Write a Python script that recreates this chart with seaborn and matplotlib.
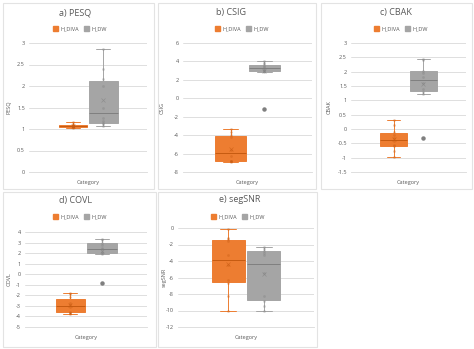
import numpy as np
import pandas as pd
import matplotlib
matplotlib.use("Agg")
import matplotlib.pyplot as plt
from matplotlib.patches import Rectangle, Patch
import seaborn as sns

sns.set_theme(style="white")
plt.rcParams["font.family"] = ["Open Sans", "DejaVu Sans"]
plt.rcParams["axes.unicode_minus"] = False

series_names = ["H_DIVA", "H_DW"]
box_colors = ["#ED7D31", "#A5A5A5"]
dark_colors = ["#C55A11", "#7F7F7F"]

# per-metric samples for the two systems
pesq_diva = [1.02, 1.04, 1.05, 1.05, 1.06, 1.08, 1.09, 1.10, 1.12, 1.16]
pesq_dw = [1.07, 1.12, 1.14, 1.18, 1.25, 1.50, 2.00, 2.16, 2.40, 2.87]
csig_diva = [-6.90, -6.85, -6.80, -6.78, -6.30, -5.60, -4.20, -4.00, -3.70, -3.38]
csig_dw = [-1.20, 2.90, 2.95, 3.02, 3.15, 3.35, 3.55, 3.68, 3.85, 4.00]
cbak_diva = [-0.98, -0.75, -0.60, -0.56, -0.42, -0.32, -0.20, -0.12, 0.15, 0.30]
cbak_dw = [-0.30, 1.22, 1.30, 1.38, 1.62, 1.80, 1.95, 2.03, 2.40, 2.45]
covl_diva = [-3.80, -3.72, -3.65, -3.55, -3.10, -2.90, -2.70, -2.20, -1.90, -1.80]
covl_dw = [-0.82, 1.95, 2.00, 2.10, 2.35, 2.50, 2.80, 3.00, 3.20, 3.30]
snr_diva = [-10.06, -8.20, -6.70, -6.26, -4.50, -3.26, -1.60, -1.35, -1.20, -0.16]
snr_dw = [-10.06, -9.50, -8.90, -8.20, -5.50, -3.22, -3.00, -2.78, -2.50, -2.34]

titles = ["a) PESQ", "b) CSIG", "c) CBAK", "d) COVL", "e) segSNR"]
ylabels = ["PESQ", "CSIG", "CBAK", "COVL", "segSNR"]
samples = [(pesq_diva, pesq_dw), (csig_diva, csig_dw), (cbak_diva, cbak_dw),
           (covl_diva, covl_dw), (snr_diva, snr_dw)]
yticks = [np.arange(0, 3.01, 0.5), np.arange(-8, 6.01, 2), np.arange(-1.5, 3.01, 0.5),
          np.arange(-5, 4.01, 1), np.arange(-12, 0.01, 2)]

W, H = 474, 349
fig = plt.figure(figsize=(W / 100, H / 100), dpi=100)
fig.patch.set_facecolor("white")

# layout in pixels: panel frame, plot area, title x, legend x, y-label x
panels = [
    dict(frame=(3, 3, 154, 189), area=(29, 43, 147, 172), tx=75, lx=80, yl=11, ty=13, ly=29),
    dict(frame=(158, 3, 316, 189), area=(183, 43, 312, 172), tx=231, lx=242, yl=165, ty=13, ly=29),
    dict(frame=(321, 3, 472, 189), area=(351, 43, 466, 172), tx=396, lx=401, yl=332, ty=13, ly=29),
    dict(frame=(3, 192, 156, 347), area=(25, 232, 147, 327), tx=76, lx=80, yl=12, ty=200, ly=217),
    dict(frame=(158, 192, 317, 347), area=(178, 228, 314, 327), tx=240, lx=238, yl=167, ty=200, ly=217),
]

text_color = "#595959"
grid_color = "#D9D9D9"

for i, p in enumerate(panels):
    fx0, fy0, fx1, fy1 = p["frame"]
    fig.patches.append(Rectangle((fx0 / W, 1 - fy1 / H), (fx1 - fx0) / W, (fy1 - fy0) / H,
                                 transform=fig.transFigure, fill=False,
                                 edgecolor="#E3E3E3", linewidth=0.8))
    l, t, r, b = p["area"]
    ax = fig.add_axes([l / W, 1 - b / H, (r - l) / W, (b - t) / H])

    d_vals, w_vals = samples[i]
    df = pd.DataFrame({
        "value": list(d_vals) + list(w_vals),
        "series": [series_names[0]] * len(d_vals) + [series_names[1]] * len(w_vals),
    })

    for k, name in enumerate(series_names):
        sub = df[df["series"] == name]
        sns.boxplot(data=sub, x="series", y="value", order=series_names,
                    color=box_colors[k], saturation=1, width=0.92,
                    linecolor=box_colors[k], linewidth=0.7, ax=ax,
                    medianprops=dict(color=dark_colors[k], linewidth=0.7),
                    flierprops=dict(marker="o", markersize=2.2,
                                    markerfacecolor=dark_colors[k],
                                    markeredgecolor=dark_colors[k]),
                    showmeans=True,
                    meanprops=dict(marker="x", markersize=2.2,
                                   markeredgecolor=dark_colors[k],
                                   markeredgewidth=0.5, alpha=0.6))
        sns.stripplot(data=sub, x="series", y="value", order=series_names,
                      jitter=False, size=2.0, color=dark_colors[k],
                      alpha=0.35, linewidth=0, ax=ax)

    ax.set_xlim(-1.42, 2.42)
    ax.set_ylim(yticks[i][0], yticks[i][-1])
    ax.set_yticks(yticks[i])
    ax.set_yticklabels([f"{v:g}" for v in yticks[i]])
    ax.set_xticks([])
    ax.yaxis.grid(True, color=grid_color, linewidth=0.6)
    ax.set_axisbelow(True)
    for s in ["left", "top", "right"]:
        ax.spines[s].set_visible(False)
    ax.spines["bottom"].set_color(grid_color)
    ax.spines["bottom"].set_linewidth(0.6)
    ax.tick_params(axis="y", length=0, labelsize=4, labelcolor=text_color, pad=3)
    ax.set_facecolor("white")

    ax.set_xlabel("Category", fontsize=4, color=text_color, labelpad=6)
    ax.set_ylabel(ylabels[i], fontsize=4, color=text_color)
    ax.yaxis.set_label_coords((p["yl"] - l) / (r - l), 0.5)

    fig.text(p["tx"] / W, 1 - p["ty"] / H, titles[i], ha="center", va="center",
             fontsize=6.5, color=text_color)
    handles = [Patch(facecolor=c, edgecolor=c) for c in box_colors]
    fig.legend(handles, series_names, loc="center", ncol=2,
               bbox_to_anchor=(p["lx"] / W, 1 - p["ly"] / H), frameon=False,
               fontsize=4, labelcolor=text_color, handlelength=0.9, handleheight=0.9,
               handletextpad=0.4, columnspacing=1.0, borderpad=0)

fig.savefig("out.png", dpi=100, facecolor="white")
